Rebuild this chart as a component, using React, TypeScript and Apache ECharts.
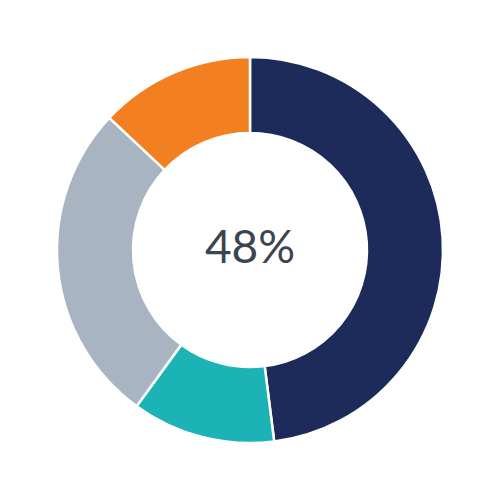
import React, { useEffect, useRef } from "react";
import * as echarts from "echarts";

const categories = ["Navy", "Teal", "Gray", "Orange"];
const values = [48, 12, 27, 13];
const colors = ["#1c2b5a", "#1bb3b6", "#a9b4c3", "#f38020"];
const centerLabel = "48%";

export default function App() {
  const chartRef = useRef<HTMLDivElement>(null);

  useEffect(() => {
    document.body.style.margin = "0";
    if (!chartRef.current) return;
    const chart = echarts.init(chartRef.current, undefined, { renderer: "svg" });
    chart.setOption({
      animation: false,
      backgroundColor: "#ffffff",
      graphic: [
        {
          type: "text",
          left: "center",
          top: 222,
          style: {
            text: centerLabel,
            fontSize: 46,
            fontFamily: "Lato",
            fill: "#3c4450",
          },
        },
      ],
      series: [
        {
          type: "pie",
          center: [250, 250],
          radius: [117, 193],
          startAngle: 90,
          clockwise: true,
          label: { show: false },
          labelLine: { show: false },
          itemStyle: { borderColor: "#ffffff", borderWidth: 2.5 },
          data: categories.map((name, i) => ({
            name,
            value: values[i],
            itemStyle: { color: colors[i] },
          })),
        },
      ],
    });
    return () => chart.dispose();
  }, []);

  return <div ref={chartRef} style={{ width: 500, height: 500 }} />;
}
